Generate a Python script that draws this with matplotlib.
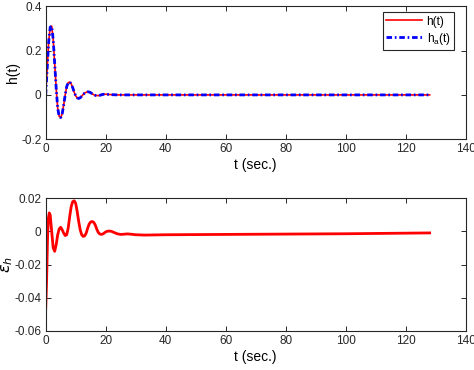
import matplotlib
matplotlib.use('Agg')
import matplotlib.pyplot as plt

plt.rcParams['font.family'] = ['Liberation Sans', 'DejaVu Sans']
plt.rcParams['mathtext.fontset'] = 'dejavusans'

# h(t) and its estimate
t_h = [0, 0.5, 1.0, 1.5, 2.0, 2.5, 3.0, 3.5, 4.0, 4.5, 5.0, 5.5, 6.0, 6.5, 7.0, 7.5,
       8.0, 8.5, 9.0, 9.5, 10.0, 10.5, 11.0, 11.5, 12.0, 12.5, 13.0, 13.5, 14.0,
       14.5, 15.0, 15.5, 16.0, 16.5, 17.0, 17.5, 18.0, 18.5, 19.0, 19.5, 20.0,
       21, 22, 24, 128]
h = [0.0, 0.12, 0.24, 0.305, 0.31, 0.25, 0.14, 0.03, -0.06, -0.097, -0.102, -0.085,
     -0.045, 0.0, 0.037, 0.055, 0.058, 0.05, 0.033, 0.012, -0.004, -0.013, -0.016,
     -0.013, -0.006, 0.002, 0.008, 0.012, 0.014, 0.013, 0.01, 0.005, 0.001, -0.002,
     -0.003, -0.003, -0.002, 0.0, 0.002, 0.003, 0.003, 0.002, 0.001, 0.0, 0.0]
h_a = h

# error eps_h
t_e = [0, 0.3, 0.6, 0.9, 1.2, 1.5, 2.0, 2.5, 3.0, 3.5, 4.0, 4.5, 5.0, 5.5, 6.0, 6.5,
       7.0, 7.5, 8.0, 8.5, 9.0, 9.5, 10.0, 10.5, 11.0, 11.5, 12.0, 12.5, 13.0, 13.5,
       14.0, 14.5, 15.0, 15.5, 16.0, 16.5, 17.0, 17.5, 18.0, 18.5, 19.0, 19.5, 20.0,
       20.5, 21.0, 21.5, 22.0, 23, 24, 25, 26, 27, 28, 30, 33, 40, 60, 80, 100, 128]
eps = [-0.047, -0.03, -0.005, 0.008, 0.0112, 0.010, 0.0, -0.010, -0.012, -0.008,
       -0.002, 0.0015, 0.0025, 0.001, -0.001, -0.0025, -0.002, 0.002, 0.009, 0.015,
       0.018, 0.0185, 0.017, 0.012, 0.006, 0.001, -0.002, -0.003, -0.0027, -0.001,
       0.002, 0.0045, 0.0057, 0.006, 0.0055, 0.004, 0.0015, -0.0005, -0.0015, -0.0018,
       -0.0016, -0.001, -0.0003, 0.0001, 0.0002, 0.0002, 0.0, -0.0008, -0.0015,
       -0.0018, -0.0017, -0.0015, -0.0016, -0.002, -0.0022, -0.002, -0.0018, -0.0016,
       -0.0014, -0.0009]

fs = 8.5
lfs = 10

fig = plt.figure(figsize=(4.74, 3.70), dpi=100)
ax1 = fig.add_axes([0.0964, 0.6235, 0.886, 0.360])
ax2 = fig.add_axes([0.0964, 0.106, 0.886, 0.358])

ax1.plot(t_h, h, color='#ff0000', lw=1.2, label='h(t)')
ax1.plot(t_h, h_a, color='#0000ff', lw=2, dashes=(2, 1, 0.6, 1), label='h$_\\mathregular{a}$(t)')
ax1.set_xlim(0, 140)
ax1.set_ylim(-0.2, 0.4)
ax1.set_yticks([-0.2, 0, 0.2, 0.4])
ax1.set_yticklabels(['-0.2', '0', '0.2', '0.4'])
ax1.set_ylabel('h(t)', fontsize=lfs, labelpad=1)
ax1.set_xlabel('t (sec.)', fontsize=lfs, labelpad=2)
leg = ax1.legend(loc='upper right', fontsize=fs, fancybox=False, edgecolor='#262626',
                 framealpha=1, handlelength=3.0, borderaxespad=0.45, borderpad=0.3,
                 labelspacing=0.25, handletextpad=0.4, bbox_to_anchor=(0.985, 0.995))
leg.get_frame().set_linewidth(0.8)

ax2.plot(t_e, eps, color='#ff0000', lw=2)
ax2.set_xlim(0, 140)
ax2.set_ylim(-0.06, 0.02)
ax2.set_yticks([-0.06, -0.04, -0.02, 0, 0.02])
ax2.set_yticklabels(['-0.06', '-0.04', '-0.02', '0', '0.02'])
ax2.set_ylabel(r'$\epsilon_h$', fontsize=11.5)
ax2.yaxis.set_label_coords(-0.072, 0.5)
ax2.set_xlabel('t (sec.)', fontsize=lfs, labelpad=2)

for ax in (ax1, ax2):
    ax.set_xticks(range(0, 141, 20))
    ax.tick_params(direction='in', length=3.5, width=0.7, top=True, right=True,
                   labelsize=fs, pad=3, colors='#262626')
    for sp in ax.spines.values():
        sp.set_linewidth(0.8)
        sp.set_color('#262626')

fig.savefig('out.png', dpi=100)
